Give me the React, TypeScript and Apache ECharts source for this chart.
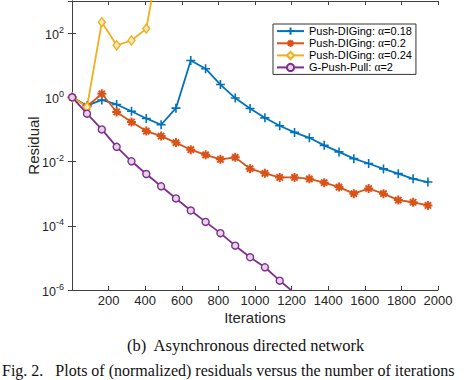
import React, { useEffect, useRef } from "react";
import * as echarts from "echarts";

const iterations = [1, 82, 163, 244, 325, 406, 487, 568, 649, 730, 811, 892, 973, 1054, 1135, 1216, 1297, 1378, 1459, 1540, 1621, 1702, 1783, 1864, 1945];

const pushDIGing018 = [1, 0.55, 0.83, 0.6, 0.37, 0.22, 0.14, 0.46, 14.1, 7.8, 2.5, 0.95, 0.45, 0.23, 0.13, 0.081, 0.055, 0.032, 0.02, 0.0123, 0.0087, 0.0059, 0.0042, 0.0029, 0.0023];
const pushDIGing02 = [1, 0.52, 1.29, 0.35, 0.17, 0.089, 0.062, 0.039, 0.0234, 0.0162, 0.0117, 0.0135, 0.006, 0.0043, 0.0032, 0.0032, 0.0029, 0.0022, 0.0016, 0.001, 0.00145, 0.001, 0.00063, 0.00054, 0.00043];
const pushDIGing024 = [1, 0.5, 219, 41.7, 58.9, 138, 45700];
const gPushPull = [1, 0.31, 0.1, 0.0288, 0.0102, 0.0041, 0.0017, 0.00071, 0.0003, 0.000132, 5.9e-5, 2.4e-5, 1.05e-5, 5.1e-6, 1.95e-6, 8.1e-7];

const seriesNames = ["Push-DIGing: α=0.18", "Push-DIGing: α=0.2", "Push-DIGing: α=0.24", "G-Push-Pull: α=2"];
const xTicks = { min: 0, max: 2000, interval: 200 };
const yRange = { min: 1e-6, max: 1e3 };

const PLUS = "path://M0,5L10,5M5,0L5,10";
const STAR = "path://M0,5L10,5M5,0L5,10M1.5,1.5L8.5,8.5M1.5,8.5L8.5,1.5";

const AX = "#404040";
const TXT = "#262626";
const SANS = "Liberation Sans, Arial, sans-serif";

function pairs(vals: number[], lastNoSymbol = false) {
  return vals.map((v, i) => {
    const item: any = { value: [iterations[i], v] };
    if (lastNoSymbol && i === vals.length - 1) item.symbol = "none";
    return item;
  });
}

export default function App() {
  const ref = useRef<HTMLDivElement>(null);
  useEffect(() => {
    document.body.style.margin = "0";
    const chart = echarts.init(ref.current!, null, { renderer: "svg" });
    const supFmt = (v: number) => {
      const e = Math.round(Math.log10(v));
      return `{b|10}{s|${e}}`;
    };
    const colors = ["#0072BD", "#D95319", "#EDB120", "#7E2F8E"];
    chart.setOption({
      animation: false,
      backgroundColor: "#fff",
      grid: { left: 72, right: 36, top: 1, bottom: 90, containLabel: false },
      legend: {
        orient: "vertical",
        left: 273,
        top: 24,
        width: 149,
        padding: [1, 4, 1, 3],
        itemGap: 0,
        itemWidth: 27,
        itemHeight: 9,
        backgroundColor: "#fff",
        borderColor: "#333",
        borderWidth: 1,
        borderRadius: 0,
        data: seriesNames,
        formatter: (name: string) => name.replace("α", "{a|α}"),
        textStyle: {
          fontFamily: SANS,
          fontSize: 11,
          color: "#000",
          lineHeight: 11.5,
          rich: {
            a: { fontFamily: "Liberation Serif, serif", fontSize: 11.5, color: "#000", lineHeight: 11.5 },
          },
        },
      },
      xAxis: [
        {
          type: "value",
          min: xTicks.min,
          max: xTicks.max,
          interval: xTicks.interval,
          position: "bottom",
          name: "Iterations",
          nameLocation: "middle",
          nameGap: 20,
          nameMoveOverlap: false,
          nameTextStyle: { fontFamily: SANS, fontSize: 15, color: TXT },
          axisLine: { show: true, lineStyle: { color: AX, width: 1 } },
          axisTick: { show: true, inside: true, length: 4, lineStyle: { color: AX } },
          axisLabel: {
            margin: 4,
            fontFamily: SANS,
            fontSize: 13,
            color: TXT,
            formatter: (v: number) => (v === 0 ? "" : String(v)),
          },
          splitLine: { show: false },
        },
        {
          type: "value",
          min: xTicks.min,
          max: xTicks.max,
          interval: xTicks.interval,
          position: "top",
          axisLine: { show: true, lineStyle: { color: AX, width: 1 } },
          axisTick: { show: true, inside: true, length: 4, lineStyle: { color: AX } },
          axisLabel: { show: false },
          splitLine: { show: false },
        },
      ],
      yAxis: [
        {
          type: "log",
          logBase: 10,
          min: yRange.min,
          max: yRange.max,
          interval: 2,
          position: "left",
          name: "Residual",
          nameLocation: "middle",
          nameGap: 31,
          nameMoveOverlap: false,
          nameTextStyle: { fontFamily: SANS, fontSize: 15, color: TXT },
          axisLine: { show: true, lineStyle: { color: AX, width: 1 } },
          axisTick: { show: true, inside: true, length: 4, lineStyle: { color: AX } },
          axisLabel: {
            margin: 8,
            showMaxLabel: false,
            formatter: supFmt,
            rich: {
              b: { fontFamily: SANS, fontSize: 12.5, color: TXT, verticalAlign: "bottom", lineHeight: 16 },
              s: { fontFamily: SANS, fontSize: 9, color: TXT, verticalAlign: "top", lineHeight: 10 },
            },
          },
          splitLine: { show: false },
        },
        {
          type: "log",
          logBase: 10,
          min: yRange.min,
          max: yRange.max,
          interval: 2,
          position: "right",
          axisLine: { show: true, lineStyle: { color: AX, width: 1 } },
          axisTick: { show: true, inside: true, length: 4, lineStyle: { color: AX } },
          axisLabel: { show: false },
          splitLine: { show: false },
        },
      ],
      series: [
        {
          name: seriesNames[0],
          type: "line",
          data: pairs(pushDIGing018),
          clip: true,
          symbol: PLUS,
          symbolSize: 9,
          showAllSymbol: true,
          lineStyle: { color: colors[0], width: 1.8 },
          itemStyle: { color: "none", borderColor: colors[0], borderWidth: 1.6 },
          color: colors[0],
        },
        {
          name: seriesNames[1],
          type: "line",
          data: pairs(pushDIGing02),
          clip: true,
          symbol: STAR,
          symbolSize: 9,
          showAllSymbol: true,
          lineStyle: { color: colors[1], width: 1.8 },
          itemStyle: { color: "none", borderColor: colors[1], borderWidth: 2 },
          color: colors[1],
        },
        {
          name: seriesNames[2],
          type: "line",
          data: pairs(pushDIGing024),
          clip: true,
          symbol: "diamond",
          symbolSize: [7, 9],
          showAllSymbol: true,
          lineStyle: { color: colors[2], width: 1.8 },
          itemStyle: { color: "#fbe9b8", borderColor: colors[2], borderWidth: 1.4 },
          color: colors[2],
        },
        {
          name: seriesNames[3],
          type: "line",
          data: pairs(gPushPull, true),
          clip: true,
          symbol: "circle",
          symbolSize: 7,
          showAllSymbol: true,
          lineStyle: { color: colors[3], width: 1.8 },
          itemStyle: { color: "#e6d3ea", borderColor: colors[3], borderWidth: 1.4 },
          color: colors[3],
        },
      ],
      graphic: [
        {
          type: "text",
          left: 127,
          top: 337,
          style: {
            text: "(b)  Asynchronous directed network",
            font: "16.5px 'Liberation Serif', 'Times New Roman', serif",
            fill: "#111",
          },
        },
        {
          type: "text",
          left: 2,
          top: 362,
          style: {
            text: "Fig. 2.   Plots of (normalized) residuals versus the number of iterations",
            font: "16px 'Liberation Serif', 'Times New Roman', serif",
            fill: "#111",
          },
        },
      ],
    });
    return () => chart.dispose();
  }, []);
  return <div ref={ref} style={{ position: "absolute", left: 0, top: 0, width: 474, height: 380 }} />;
}
